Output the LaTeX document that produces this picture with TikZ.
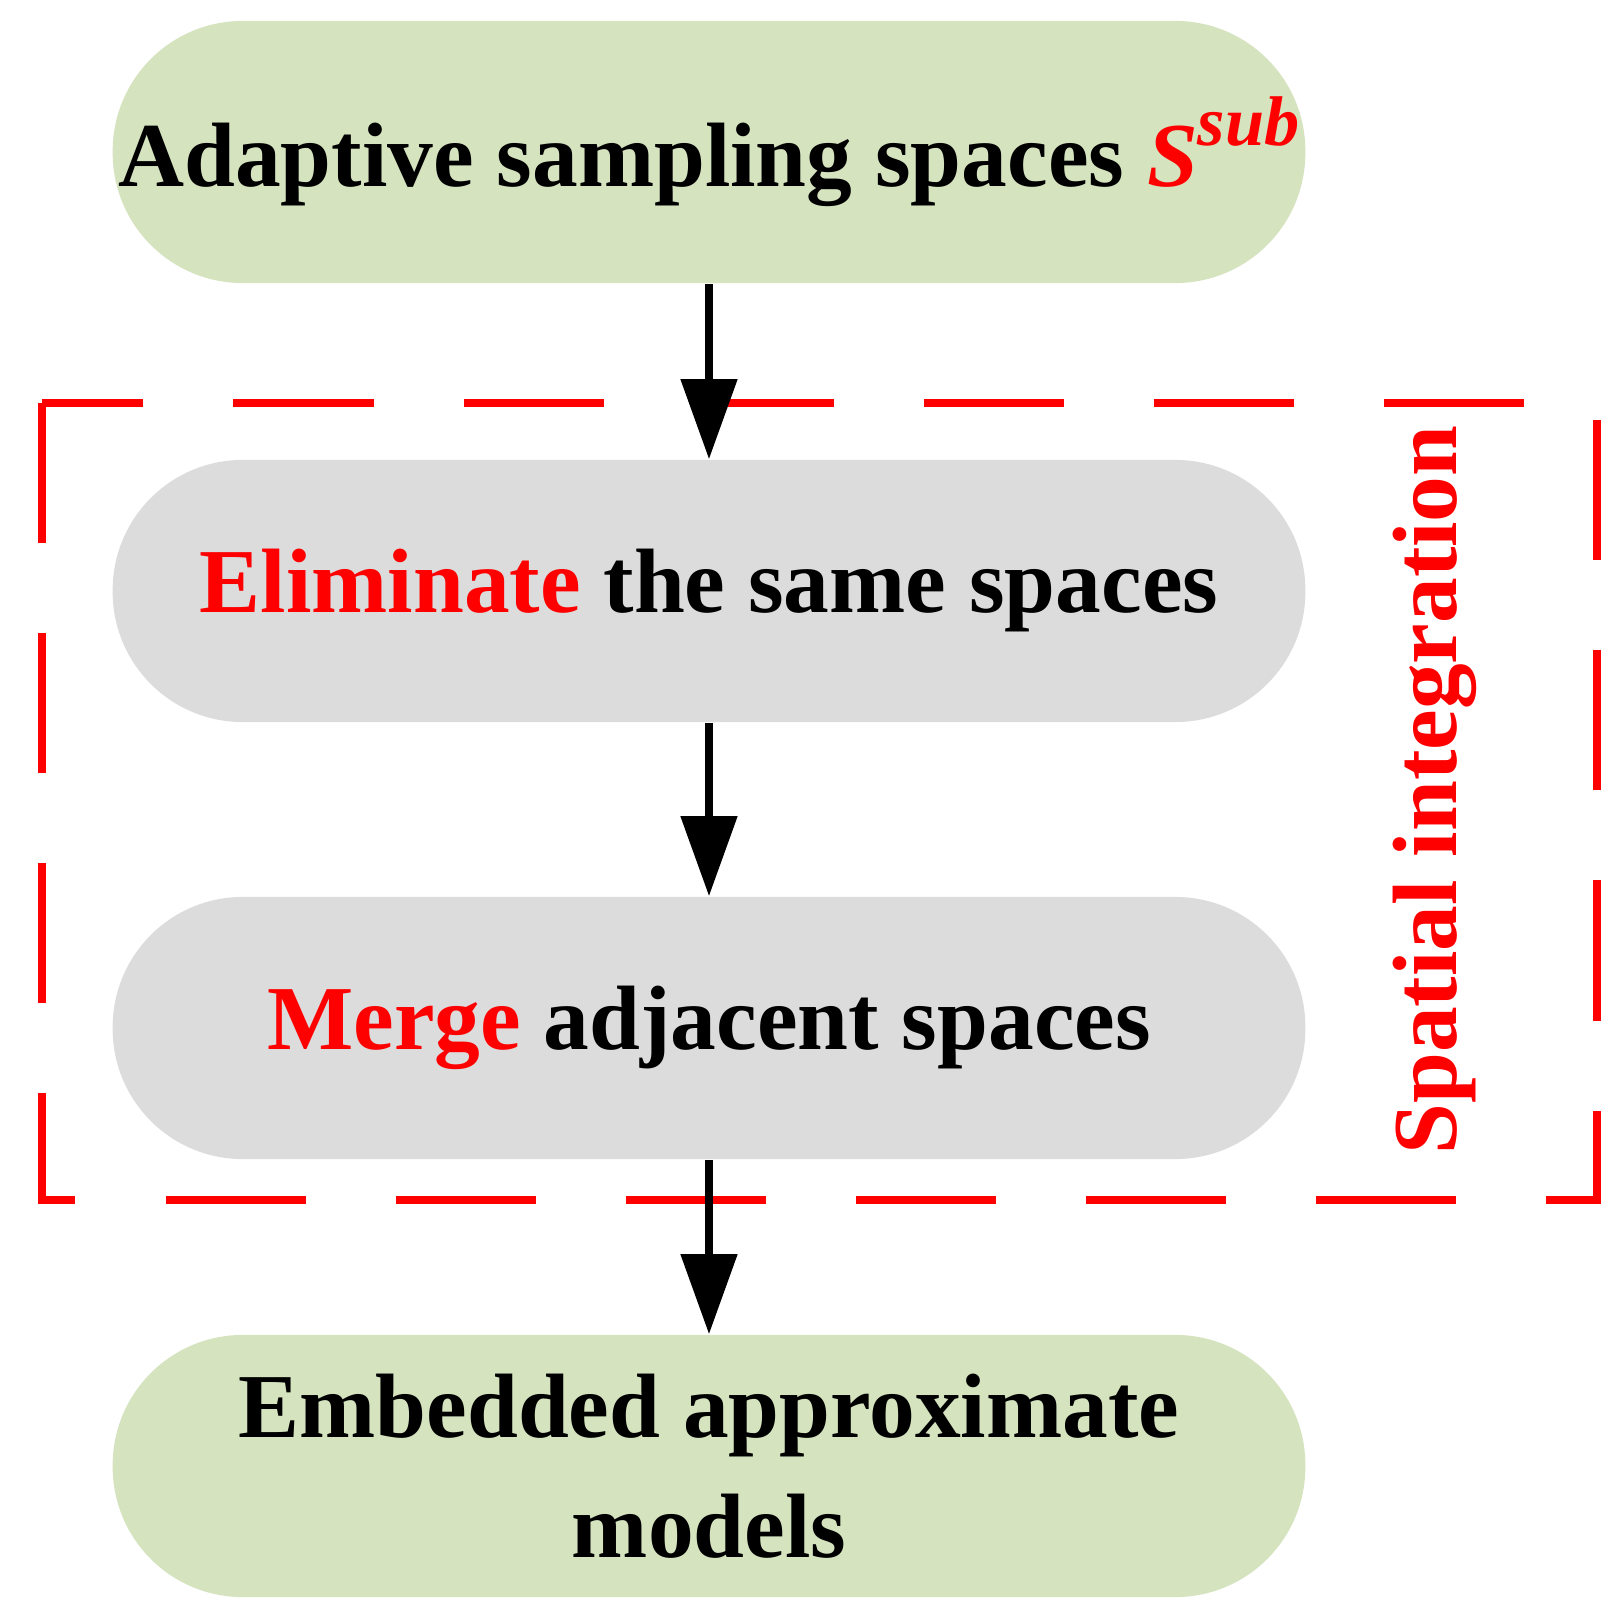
\documentclass[tikz,border=0pt]{standalone}
\usepackage{fontspec}
\setmainfont{Liberation Serif}
\usetikzlibrary{arrows.meta}
\definecolor{boxgreen}{HTML}{D5E3BF}
\definecolor{boxgray}{HTML}{DCDCDC}
\definecolor{myred}{HTML}{FF0000}
\begin{document}
\begin{tikzpicture}[x=0.01cm,y=-0.01cm,
  box/.style={rounded corners=1.3cm, minimum width=11.92cm, minimum height=2.62cm,
    inner sep=0pt, align=center, font=\fontsize{26}{34}\selectfont\bfseries},
  flow/.style={line width=2.3pt, -{Triangle[length=0.8cm,width=0.55cm]}}]
\useasboundingbox (0,0) rectangle (1613,1607);
\node[box, fill=boxgreen] (a) at (709,152) {Adaptive sampling spaces \textcolor{myred}{\textit{S}}\raisebox{0.45em}{\fontsize{20}{20}\selectfont\textit{\textcolor{myred}{sub}}}};
\node[box, fill=boxgray] (b) at (709,591) {\textcolor{myred}{Eliminate} the same spaces};
\node[box, fill=boxgray] (c) at (709,1028) {\textcolor{myred}{Merge} adjacent spaces};
\node[box, fill=boxgreen] (d) at (709,1466) {Embedded approximate\\models};
\draw[myred, line width=2.3pt, dash pattern=on 1.4cm off 0.9cm] (42,403) rectangle (1597,1200);
\node[rotate=90, text=myred, font=\fontsize{26}{30}\selectfont\bfseries] (s) at (1435,790) {Spatial integration};
\draw[flow] (a) -- (b);
\draw[flow] (b) -- (c);
\draw[flow] (c) -- (d);
\end{tikzpicture}
\end{document}
